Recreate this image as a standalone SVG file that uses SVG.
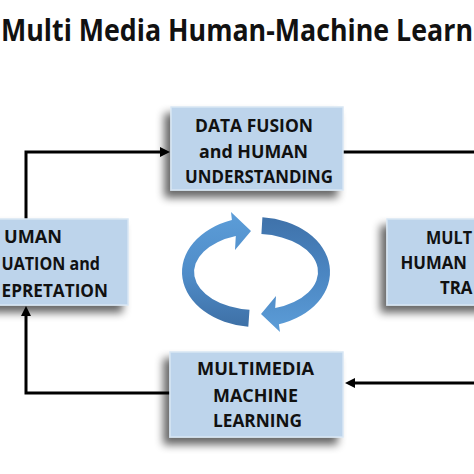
<svg xmlns="http://www.w3.org/2000/svg" width="474" height="474" viewBox="0 0 474 474">
<style>
.box{fill:#BDD4EB;stroke:#D8E6F4;stroke-width:1.5;filter:url(#sh)}
.lbl{font-family:"Open Sans","Liberation Sans",sans-serif;font-weight:700;font-size:18.5px;fill:#111}
.title{font-family:"Open Sans","Liberation Sans",sans-serif;font-weight:700;font-size:30px;fill:#111}
.conn{fill:none;stroke:#000;stroke-width:3}
</style>
<defs>
<filter id="sh" x="-30%" y="-30%" width="160%" height="160%">
<feGaussianBlur in="SourceAlpha" stdDeviation="4"/>
<feOffset dx="-6" dy="7" result="b"/>
<feComponentTransfer><feFuncA type="linear" slope="0.6"/></feComponentTransfer>
<feMerge><feMergeNode/><feMergeNode in="SourceGraphic"/></feMerge>
</filter>
<marker id="ah" viewBox="0 0 10 10" refX="1" refY="5" markerWidth="10" markerHeight="10" markerUnits="userSpaceOnUse" orient="auto">
<path d="M0,0 L10,5 L0,10 Z" fill="#000"/>
</marker>
<linearGradient id="gl" x1="0" y1="0" x2="0" y2="1">
<stop offset="0" stop-color="#5C9DD8"/>
<stop offset="0.55" stop-color="#4F8CC8"/>
<stop offset="1" stop-color="#3E70A6"/>
</linearGradient>
<linearGradient id="gr" x1="0" y1="0" x2="0" y2="1">
<stop offset="0" stop-color="#3F72AA"/>
<stop offset="0.5" stop-color="#4B86C2"/>
<stop offset="1" stop-color="#5C9DD8"/>
</linearGradient>
</defs>
<rect width="474" height="474" fill="#fff"/>
<text class="title" x="1" y="41" textLength="472" lengthAdjust="spacingAndGlyphs">Multi Media Human-Machine Learn</text>

<g id="connectors">
<path class="conn" d="M26 219 V152 H161" marker-end="url(#ah)"/>
<path class="conn" d="M343 152 H474"/>
<path class="conn" d="M474 383 H354" marker-end="url(#ah)"/>
<path class="conn" d="M170 393 H26 V315" marker-end="url(#ah)"/>
</g>

<g id="node-top">
<rect class="box" x="171" y="107" width="172" height="83"/>
<text class="lbl" x="195" y="131.7" textLength="118" lengthAdjust="spacingAndGlyphs">DATA FUSION</text>
<text class="lbl" x="199" y="158.3" textLength="109" lengthAdjust="spacingAndGlyphs">and HUMAN</text>
<text class="lbl" x="185" y="183.3" textLength="148" lengthAdjust="spacingAndGlyphs">UNDERSTANDING</text>
</g>

<g id="node-left">
<rect class="box" x="-64" y="219" width="192" height="86"/>
<text class="lbl" x="4" y="243.3" textLength="58" lengthAdjust="spacingAndGlyphs">UMAN</text>
<text class="lbl" x="1.5" y="270" textLength="98.5" lengthAdjust="spacingAndGlyphs">UATION and</text>
<text class="lbl" x="1.5" y="296.5" textLength="106.5" lengthAdjust="spacingAndGlyphs">EPRETATION</text>
</g>

<g id="node-right">
<rect class="box" x="387" y="219" width="190" height="86"/>
<text class="lbl" x="426" y="244.3" textLength="46" lengthAdjust="spacingAndGlyphs">MULT</text>
<text class="lbl" x="400.5" y="269.3" textLength="66.5" lengthAdjust="spacingAndGlyphs">HUMAN</text>
<text class="lbl" x="440" y="294.3" textLength="32.5" lengthAdjust="spacingAndGlyphs">TRA</text>
</g>

<g id="node-bottom">
<rect class="box" x="170" y="352" width="173" height="85"/>
<text class="lbl" x="197" y="375" textLength="117" lengthAdjust="spacingAndGlyphs">MULTIMEDIA</text>
<text class="lbl" x="213" y="401.5" textLength="85" lengthAdjust="spacingAndGlyphs">MACHINE</text>
<text class="lbl" x="213" y="427" textLength="89" lengthAdjust="spacingAndGlyphs">LEARNING</text>
</g>

<g id="cycle">
<path d="M248.3,326.7 A74 55 0 0 1 231.9,220 L231,212 L251,231 L235,250 L235.8,236.1 A62 38 0 0 0 249.5,309.8 Z" fill="url(#gl)"/>
<path d="M262.4,217.2 A74 55 0 0 1 278.9,324.3 L280,332 L261,314 L276,296 L275.2,308.1 A62 38 0 0 0 261.4,234.1 Z" fill="url(#gr)"/>
</g>
</svg>
